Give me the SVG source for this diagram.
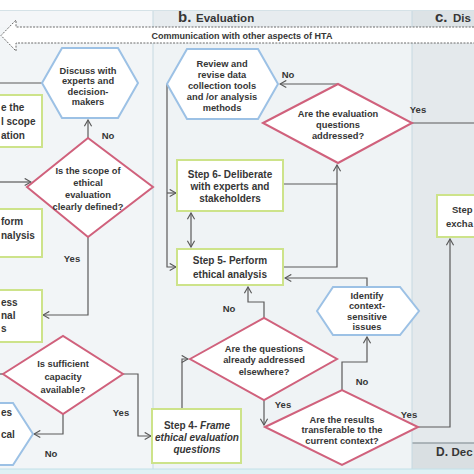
<svg xmlns="http://www.w3.org/2000/svg" width="474" height="474" viewBox="0 0 474 474">
<style>
.t{font-family:"Liberation Sans Narrow","Liberation Sans",Arial,sans-serif;font-weight:bold;fill:#363636;font-size:9.3px;text-anchor:middle}
.s{font-size:10px}
.e{text-anchor:start;font-size:10px}
.st{text-anchor:start;font-size:9.5px}
.lb{font-family:"Liberation Sans Narrow","Liberation Sans",Arial,sans-serif;font-weight:bold;fill:#363636;font-size:9.5px;text-anchor:middle}
.h{font-family:"Liberation Sans",Arial,sans-serif;font-weight:bold;fill:#363636}
.dia{fill:#fff;stroke:#d0617c;stroke-width:2}
.hex{fill:#fff;stroke:#9cc1e5;stroke-width:2}
.box{fill:#fff;stroke:#cde38a;stroke-width:2}
.c{fill:none;stroke:#5a5a5a;stroke-width:1.2}
.ar{marker-end:url(#ah)}
</style>
<defs>
<marker id="ah" viewBox="0 0 10 10" refX="9" refY="5" markerWidth="9" markerHeight="9" markerUnits="userSpaceOnUse" orient="auto-start-reverse">
<path d="M2,1 L9,5 L2,9" fill="none" stroke="#5a5a5a" stroke-width="1.3"/>
</marker>
</defs>
<g id="background">
<rect x="0" y="0" width="474" height="474" fill="#f2f5f7"/>
<rect x="153" y="10" width="259" height="460" fill="#eff3f5"/>
<rect x="412" y="10" width="62" height="460" fill="#e4e9ec"/>
<rect x="0" y="0" width="474" height="10" fill="#ffffff"/>
<rect x="0" y="10" width="153" height="17" fill="#f4f6f8"/>
<rect x="153" y="10" width="259" height="17" fill="#e7ecef"/>
<rect x="412" y="10" width="62" height="17" fill="#dde3e6"/>
<rect x="412" y="443" width="62" height="27" fill="#d9dfe2"/>
<line x1="412" y1="443" x2="474" y2="443" stroke="#9aa3a8" stroke-width="1.5"/>
<line x1="153" y1="10" x2="153" y2="470" stroke="#c6d9e1" stroke-width="1"/>
<line x1="412" y1="10" x2="412" y2="470" stroke="#c6d9e1" stroke-width="1"/>
<line x1="0" y1="10.5" x2="474" y2="10.5" stroke="#d5e2e7" stroke-width="1"/>
<rect x="0" y="469" width="474" height="5" fill="#dff0f4"/>
<line x1="0" y1="469" x2="474" y2="469" stroke="#c2e0e8" stroke-width="1"/>
<text class="h" x="178" y="22" font-size="15">b.</text>
<text class="h" x="196" y="22" font-size="11.5">Evaluation</text>
<text class="h" x="435" y="22" font-size="15">c.</text>
<text class="h" x="453" y="22" font-size="11.5">Dis</text>
<text class="h" x="436" y="456" font-size="12">D.</text>
<text class="h" x="451.5" y="456" font-size="11.5">Dec</text>
</g>
<g id="communication">
<path d="M474,27 H16 V20 L1,35.5 L16,51 V43 H474" fill="#ffffff" stroke="#6a6a6a" stroke-width="1" stroke-dasharray="2,1.3"/>
<text class="h" x="242" y="39" font-size="9" text-anchor="middle">Communication with other aspects of HTA</text>
</g>
<g id="connectors">
<path class="c" d="M0,83 H42"/>
<path class="c ar" d="M88,138 V120"/>
<path class="c ar" d="M0,182 H31"/>
<path class="c ar" d="M88,237 V315 H43"/>
<path class="c" d="M0,374 H3"/>
<path class="c ar" d="M123,374 H138 V436 H151"/>
<path class="c ar" d="M63,414 V434 H34"/>
<path class="c ar" d="M167,84 V267 H176"/>
<path class="c ar" d="M167,193 H176"/>
<path class="c ar" d="M338,84 H280"/>
<path class="c" d="M412,123 H474"/>
<path class="c" d="M283,184 H337"/>
<path class="c ar" d="M283,267 H337 V165"/>
<path class="c ar" d="M191,213 V247" marker-start="url(#ah)"/>
<path class="c ar" d="M367,287 V278 H285"/>
<path class="c ar" d="M264,318 V302 H248 V287"/>
<path class="c ar" d="M182,409 V359 H188"/>
<path class="c ar" d="M264,400 V425"/>
<path class="c ar" d="M342,390 V362 H367 V337"/>
<path class="c ar" d="M418,427 H450 V239"/>
<text class="lb" x="108" y="138.5">No</text>
<text class="lb" x="72" y="261.5">Yes</text>
<text class="lb" x="121" y="415.5">Yes</text>
<text class="lb" x="51" y="456.5">No</text>
<text class="lb" x="288" y="77.5">No</text>
<text class="lb" x="418" y="112.5">Yes</text>
<text class="lb" x="229" y="311.5">No</text>
<text class="lb" x="283" y="407.5">Yes</text>
<text class="lb" x="362" y="384.5">No</text>
<text class="lb" x="409" y="417.5">Yes</text>
</g>
<g id="discuss">
<polygon class="hex" points="42,83 62,48 118,48 138,83 118,118 62,118"/>
<text class="t" x="88" y="73.5">Discuss with</text>
<text class="t" x="88" y="84">experts and</text>
<text class="t" x="88" y="94.5">decision-</text>
<text class="t" x="88" y="105">makers</text>
</g>
<g id="define-scope">
<rect class="box" x="-60" y="95" width="102" height="52"/>
<text class="t e" x="1" y="110.5">e the</text>
<text class="t e" x="1" y="124.5">l scope</text>
<text class="t e" x="1" y="138.5">ation</text>
</g>
<g id="scope-defined">
<polygon class="dia" points="27,187 88,138 153,187 88,237"/>
<text class="t" x="88" y="174">Is the scope of</text>
<text class="t" x="88" y="186">ethical</text>
<text class="t" x="88" y="198">evaluation</text>
<text class="t" x="88" y="210">clearly defined?</text>
</g>
<g id="perform-a">
<rect class="box" x="-60" y="209" width="102" height="48"/>
<text class="t e" x="1" y="224.5">form</text>
<text class="t e" x="1" y="238.5">nalysis</text>
</g>
<g id="assess-a">
<rect class="box" x="-60" y="290" width="102" height="52"/>
<text class="t e" x="1" y="305.5">ess</text>
<text class="t e" x="1" y="318.5">nal</text>
<text class="t e" x="1" y="331.5">s</text>
</g>
<g id="capacity">
<polygon class="dia" points="3,374 63,336 123,374 63,414"/>
<text class="t" x="63" y="366.5">Is sufficient</text>
<text class="t" x="63" y="379.5">capacity</text>
<text class="t" x="63" y="393">available?</text>
</g>
<g id="resources-hex">
<polygon class="hex" points="-40,434 -20,403 13,403 33,434 13,465 -20,465"/>
<text class="t e" x="1" y="415.5">es</text>
<text class="t e" x="1" y="437.5">cal</text>
</g>
<g id="review">
<polygon class="hex" points="167,84 187,49 258,49 278,84 258,119 187,119"/>
<text class="t" x="222" y="66.5">Review and</text>
<text class="t" x="222" y="77.5">revise data</text>
<text class="t" x="222" y="88.5">collection tools</text>
<text class="t" x="222" y="99.5">and /or analysis</text>
<text class="t" x="222" y="110.5">methods</text>
</g>
<g id="questions-addressed">
<polygon class="dia" points="263,123 338,84 412,123 338,163"/>
<text class="t" x="338" y="116.5">Are the evaluation</text>
<text class="t" x="338" y="127.5">questions</text>
<text class="t" x="338" y="138.5">addressed?</text>
</g>
<g id="step6">
<rect class="box" x="177" y="160" width="106" height="51"/>
<text class="t s" x="230" y="178">Step 6- Deliberate</text>
<text class="t s" x="230" y="190">with experts and</text>
<text class="t s" x="230" y="202">stakeholders</text>
</g>
<g id="step5">
<rect class="box" x="177" y="249" width="106" height="36"/>
<text class="t s" x="230" y="264">Step 5- Perform</text>
<text class="t s" x="230" y="278">ethical analysis</text>
</g>
<g id="elsewhere">
<polygon class="dia" points="190,359 264,318 337,359 264,400"/>
<text class="t" x="264" y="351.5">Are the questions</text>
<text class="t" x="264" y="363">already addressed</text>
<text class="t" x="264" y="374.5">elsewhere?</text>
</g>
<g id="step4">
<rect class="box" x="152" y="409" width="89" height="54"/>
<text class="t s" x="197" y="429">Step 4- <tspan font-style="italic">Frame</tspan></text>
<text class="t s" x="197" y="441" font-style="italic">ethical evaluation</text>
<text class="t s" x="197" y="452.5" font-style="italic">questions</text>
</g>
<g id="transferable">
<polygon class="dia" points="265,427 342,390 418,427 342,465"/>
<text class="t" x="342" y="422.5">Are the results</text>
<text class="t" x="342" y="433">transferable to the</text>
<text class="t" x="342" y="443.5">current context?</text>
</g>
<g id="identify">
<polygon class="hex" points="317,311 333,287 400,287 419,311 400,335 333,335"/>
<text class="t" x="367" y="298.5">Identify</text>
<text class="t" x="367" y="309">context-</text>
<text class="t" x="367" y="319.5">sensitive</text>
<text class="t" x="367" y="330">issues</text>
</g>
<g id="step7">
<rect class="box" x="437" y="195" width="60" height="42"/>
<text class="t st" x="452" y="213">Step</text>
<text class="t st" x="446" y="227">excha</text>
</g>
</svg>
